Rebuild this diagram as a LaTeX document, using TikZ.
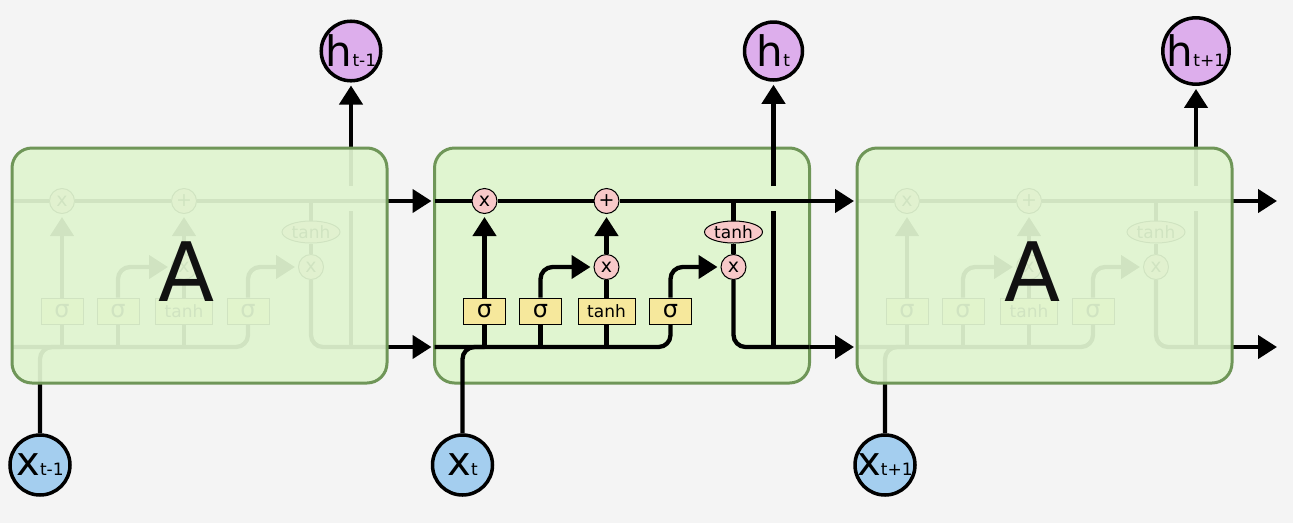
\documentclass[tikz,border=0pt]{standalone}
\usepackage{fontspec}
\setmainfont{DejaVu Sans}
\usetikzlibrary{arrows.meta,shapes.geometric,calc}
\definecolor{bg}{HTML}{F4F4F4}
\definecolor{cellfill}{HTML}{E0F5D0}
\definecolor{cellline}{HTML}{6F9658}
\definecolor{oppink}{HTML}{F8C9C9}
\definecolor{gateyel}{HTML}{F6E89C}
\definecolor{hpurple}{HTML}{DDAEEC}
\definecolor{xblue}{HTML}{A4CEEF}
\definecolor{txt}{HTML}{111111}
\newcommand\fs[1]{\fontsize{#1}{#1}\selectfont}
\newcommand\lbl[3]{{\fs{#1}#2}{\fs{17}#3}}
\tikzset{
  ln/.style={line width=4.3pt, black},
  arr/.style={-{Triangle[length=19pt,width=23pt]}, shorten >=3pt},
  op/.style={circle, draw, line width=1pt, fill=oppink, minimum size=25pt, inner sep=0pt, font=\fs{19}},
  tanhE/.style={ellipse, draw, line width=1pt, fill=oppink, minimum width=58pt, minimum height=22pt, inner sep=0pt, font=\fs{17}},
  gate/.style={rectangle, draw, line width=1pt, fill=gateyel, minimum width=42pt, minimum height=26pt, inner sep=0pt, font=\fs{24}},
  cellbox/.style={draw=cellline, line width=3pt, rounded corners=20pt, fill=cellfill},
  hcirc/.style={circle, draw, line width=3.5pt, fill=hpurple, minimum size=58pt, inner sep=0pt},
  xcirc/.style={circle, draw, line width=3.5pt, fill=xblue, minimum size=60pt, inner sep=0pt},
  bigA/.style={font=\fs{82}, text=txt, inner sep=0pt},
}
% #1 prefix, #2 left x of the cell
\newcommand\lstmcell[2]{%
\begin{scope}[xshift=#2pt]
  \coordinate (#1cin) at (0,201);
  \coordinate (#1cout) at (375,201);
  \coordinate (#1hin) at (0,347);
  \coordinate (#1hout) at (375,347);
  \coordinate (#1htop) at (339,186);
  \coordinate (#1hgap) at (339,211);
  \node[op] (#1f) at (50,201) {x};
  \node[op] (#1p) at (172,201) {+};
  \node[op] (#1i) at (172,267) {x};
  \node[op] (#1o) at (299,267) {x};
  \node[tanhE] (#1th) at (299,232) {tanh};
  \node[gate] (#1s1) at (50,311) {σ};
  \node[gate] (#1s2) at (106,311) {σ};
  \node[gate,minimum width=57pt,font=\fs{17}] (#1tb) at (172,311) {tanh};
  \node[gate] (#1s3) at (236,311) {σ};
  \draw[ln] (#1cin) -- (#1f) -- (#1p) -- (#1cout);
  \draw[ln] (#1o |- #1cin) -- (#1th) -- (#1o);
  \draw[ln,arr] (#1s1) -- (#1f);
  \draw[ln,arr] (#1i) -- (#1p);
  \draw[ln] (#1tb) -- (#1i);
  \draw[ln,arr,rounded corners=12pt] (#1s2.north) |- (#1i);
  \draw[ln,arr,rounded corners=12pt] (#1s3.north) |- (#1o);
  \draw[ln,rounded corners=12pt] (#1hin) -| (#1s3.south);
  \draw[ln] (#1s1.south) -- (#1s1.south |- #1hin);
  \draw[ln] (#1s2.south) -- (#1s2.south |- #1hin);
  \draw[ln] (#1tb.south) -- (#1tb.south |- #1hin);
  \draw[ln,rounded corners=12pt] (#1o.south) |- (#1hout);
  \draw[ln] (#1hgap |- #1hin) -- (#1hgap);
\end{scope}}
\begin{document}
\begin{tikzpicture}[x=1pt,y=-1pt]
\fill[bg] (0,0) rectangle (1293,523);
\useasboundingbox (0,0) rectangle (1293,523);
% middle cell box (opaque, below its content)
\draw[cellbox] (434.5,148) rectangle ++(375,235);
% cell contents
\lstmcell{a}{12}
\lstmcell{b}{434.5}
\lstmcell{c}{857}
% inputs and outputs
\node[hcirc] (h1) at (351,51) {\lbl{42}{h}{t-1}};
\node[hcirc] (h2) at (773.5,51) {\lbl{42}{h}{t}};
\node[hcirc] (h3) at (1196,51) {\lbl{42}{h}{t+1}};
\node[xcirc] (x1) at (40,465) {\lbl{40}{x}{t-1}};
\node[xcirc] (x2) at (462.5,465) {\lbl{40}{x}{t}};
\node[xcirc] (x3) at (885,465) {\lbl{40}{x}{t+1}};
\draw[ln,arr] (ahtop) -- (h1);
\draw[ln,arr] (bhtop) -- (h2);
\draw[ln,arr] (chtop) -- (h3);
\draw[ln,rounded corners=12pt] (x1.north) |- (as1.south |- ahin);
\draw[ln,rounded corners=12pt] (x2.north) |- (bs1.south |- bhin);
\draw[ln,rounded corners=12pt] (x3.north) |- (cs1.south |- chin);
% connections between cells
\coordinate (cend) at (1277,201);
\coordinate (hend) at (1277,347);
\draw[ln,arr] (acout) -- (bcin);
\draw[ln,arr] (ahout) -- (bhin);
\draw[ln,arr] (bcout) -- (ccin);
\draw[ln,arr] (bhout) -- (chin);
\draw[ln,arr,shorten >=0pt] (ccout) -- (cend);
\draw[ln,arr,shorten >=0pt] (chout) -- (hend);
% outer cells: translucent covers
\draw[cellbox,fill opacity=0.93] (12,148) rectangle ++(375,235);
\draw[cellbox,fill opacity=0.93] (857,148) rectangle ++(375,235);
\node[bigA] (A1) at (187,272) {A};
\node[bigA] (A3) at (1033,272) {A};
\end{tikzpicture}
\end{document}
